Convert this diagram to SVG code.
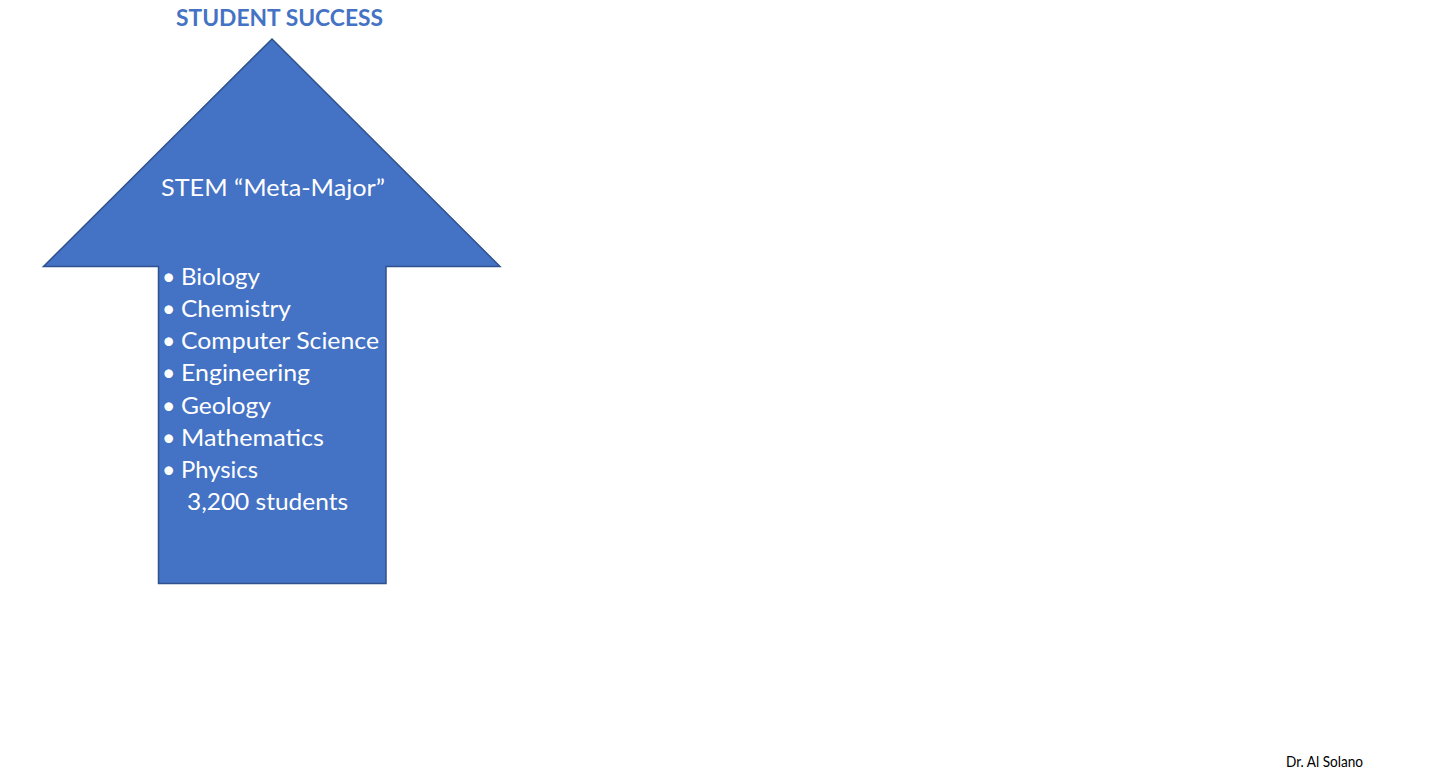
<svg xmlns="http://www.w3.org/2000/svg" width="1440" height="773" viewBox="0 0 1440 773">
<style>
.t{font-family:Lato,"Open Sans","Liberation Sans",sans-serif;fill:#ffffff;font-size:23px}
.h{font-family:Lato,"Open Sans","Liberation Sans",sans-serif;fill:#4472C4;font-size:22px;font-weight:bold}
.f{font-family:Lato,"Open Sans","Liberation Sans",sans-serif;fill:#000000;font-size:15px}
</style>
<rect width="1440" height="773" fill="#ffffff"/>
<text id="title" class="h" x="279.5" y="26" text-anchor="middle" textLength="207" lengthAdjust="spacingAndGlyphs">STUDENT SUCCESS</text>
<g id="arrow">
<polygon points="272,39 500,266.5 386,266.5 386,583.5 158.5,583.5 158.5,266.5 43.5,266.5" fill="#4472C4" stroke="#2F528F" stroke-width="1.5"/>
<text class="t" x="273" y="196" text-anchor="middle" textLength="224" lengthAdjust="spacingAndGlyphs">STEM “Meta-Major”</text>
<g class="t">
<text x="162" y="285">•</text><text x="181" y="285" textLength="79" lengthAdjust="spacingAndGlyphs">Biology</text>
<text x="162" y="317">•</text><text x="181" y="317" textLength="110" lengthAdjust="spacingAndGlyphs">Chemistry</text>
<text x="162" y="349">•</text><text x="181" y="349" textLength="198" lengthAdjust="spacingAndGlyphs">Computer Science</text>
<text x="162" y="381">•</text><text x="181" y="381" textLength="129" lengthAdjust="spacingAndGlyphs">Engineering</text>
<text x="162" y="414">•</text><text x="181" y="414" textLength="90" lengthAdjust="spacingAndGlyphs">Geology</text>
<text x="162" y="446">•</text><text x="181" y="446" textLength="143" lengthAdjust="spacingAndGlyphs">Mathematics</text>
<text x="162" y="478">•</text><text x="181" y="478" textLength="77" lengthAdjust="spacingAndGlyphs">Physics</text>
<text x="187" y="510" textLength="161" lengthAdjust="spacingAndGlyphs">3,200 students</text>
</g>
</g>
<g id="connectors"/>
<text id="author" class="f" x="1286" y="767" textLength="77" lengthAdjust="spacingAndGlyphs">Dr. Al Solano</text>
</svg>
